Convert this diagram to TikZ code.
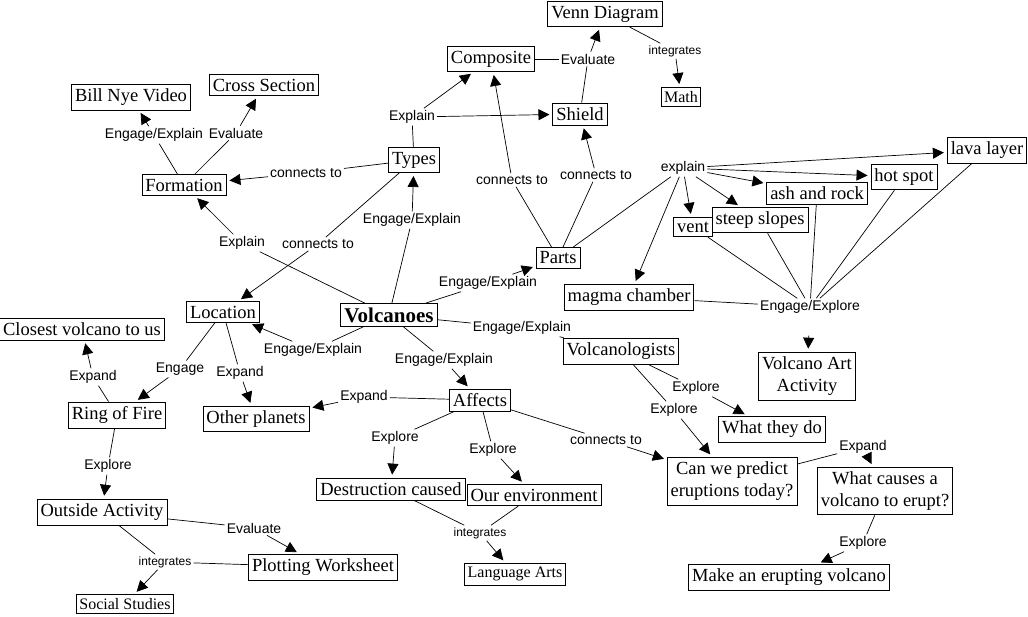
\documentclass[tikz,border=0pt]{standalone}
\usepackage{fontspec}
\setmainfont{Liberation Serif}
\setsansfont{Liberation Sans}
\usetikzlibrary{arrows.meta}
\tikzset{
  box/.style={draw, line width=0.8pt, font=\fontsize{18.5}{22}\selectfont, inner xsep=3.5pt, inner ysep=4.5pt, align=center},
  sbox/.style={draw, line width=0.8pt, font=\fontsize{16}{19}\selectfont, inner xsep=3pt, inner ysep=4pt},
  mainbox/.style={draw, line width=0.8pt, font=\bfseries\fontsize{21}{24}\selectfont, inner xsep=4pt, inner ysep=4pt},
  lbl/.style={font=\sffamily\fontsize{14}{16}\selectfont, inner sep=2pt},
  ilbl/.style={font=\sffamily\fontsize{12}{14}\selectfont, inner sep=2pt},
  ln/.style={line width=0.7pt},
  arr/.style={ln, -{Triangle[length=11pt,width=11pt]}, shorten >=3pt}
}
\begin{document}
\begin{tikzpicture}[x=1pt,y=-1pt]
\useasboundingbox (0,0) rectangle (1028,616);
% concept boxes
\node[box] (venn) at (605,14) {Venn Diagram};
\node[sbox] (math) at (681,97) {Math};
\node[box] (comp) at (491,59) {Composite};
\node[box] (shield) at (580,114) {Shield};
\node[box] (billnye) at (131,97) {Bill Nye Video};
\node[box] (cross) at (264,85) {Cross Section};
\node[box] (form) at (184,185) {Formation};
\node[box] (types) at (414,160) {Types};
\node[box] (lava) at (987,150) {lava layer};
\node[box] (hot) at (904,177) {hot spot};
\node[box] (ash) at (817,193) {ash and rock};
\node[box] (steep) at (760,220) {steep slopes};
\node[box] (vent) at (693,227) {vent};
\node[box] (parts) at (558,258) {Parts};
\node[box] (magma) at (629,297) {magma chamber};
\node[box] (loc) at (223,312) {Location};
\node[mainbox] (volc) at (389,315) {Volcanoes};
\node[box] (closest) at (82,329) {Closest volcano to us};
\node[box] (vlog) at (621,351) {Volcanologists};
\node[box] (art) at (807,376) {Volcano Art\\Activity};
\node[box] (ring) at (117,415) {Ring of Fire};
\node[box] (other) at (256,419) {Other planets};
\node[box] (aff) at (480,400) {Affects};
\node[box] (what) at (772,429) {What they do};
\node[box] (pred) at (732,481) {Can we predict\\eruptions today?};
\node[box] (cause) at (885,491) {What causes a\\volcano to erupt?};
\node[box] (destr) at (391,489) {Destruction caused};
\node[box] (env) at (534,495) {Our environment};
\node[box] (outside) at (102,512) {Outside Activity};
\node[box] (plot) at (323,567) {Plotting Worksheet};
\node[sbox] (lang) at (515,574) {Language Arts};
\node[box] (make) at (789,577) {Make an erupting volcano};
\node[sbox] (social) at (125,604) {Social Studies};
% labels
\node[lbl] (l-bn) at (154,135) {Engage/Explain};
\node[lbl] (l-cs) at (236,133) {Evaluate};
\node[lbl] (l-tf) at (306,173) {connects to};
\node[lbl] (l-vf) at (242,243) {Explain};
\node[lbl] (l-tl) at (318,244) {connects to};
\node[lbl] (l-vt) at (412,220) {Engage/Explain};
\node[lbl] (l-tcs) at (412,117) {Explain};
\node[lbl] (l-sv) at (588,59) {Evaluate};
\node[ilbl] (l-vm) at (675,51) {integrates};
\node[lbl] (l-pc) at (512,180) {connects to};
\node[lbl] (l-ps) at (596,175) {connects to};
\node[lbl] (l-px) at (683,168) {explain};
\node[lbl] (l-vp) at (488,283) {Engage/Explain};
\node[lbl] (l-vv) at (522,328) {Engage/Explain};
\node[lbl] (l-vl) at (313,350) {Engage/Explain};
\node[lbl] (l-va) at (444,360) {Engage/Explain};
\node[lbl] (l-ee) at (810,307) {Engage/Explore};
\node[lbl] (l-lr) at (180,369) {Engage};
\node[lbl] (l-lo) at (240,373) {Expand};
\node[lbl] (l-rc) at (93,377) {Expand};
\node[lbl] (l-ro) at (108,466) {Explore};
\node[lbl] (l-ao) at (364,397) {Expand};
\node[lbl] (l-ad) at (395,438) {Explore};
\node[lbl] (l-ae) at (493,450) {Explore};
\node[lbl] (l-ac) at (606,440) {connects to};
\node[lbl] (l-vw) at (696,388) {Explore};
\node[lbl] (l-vc) at (674,410) {Explore};
\node[lbl] (l-pe) at (863,447) {Expand};
\node[lbl] (l-cm) at (863,543) {Explore};
\node[lbl] (l-op) at (254,528) {Evaluate};
\node[ilbl] (l-os) at (165,562) {integrates};
\node[ilbl] (l-dl) at (480,533) {integrates};
% connectors
\draw[ln] (form) -- (l-bn); \draw[arr] (l-bn) -- (billnye);
\draw[ln] (form) -- (l-cs); \draw[arr] (l-cs) -- (cross);
\draw[ln] (types) -- (l-tf); \draw[arr] (l-tf) -- (form);
\draw[ln] (volc) -- (l-vf); \draw[arr] (l-vf) -- (form);
\draw[ln] (types) -- (l-tl); \draw[arr] (l-tl) -- (loc);
\draw[ln] (volc) -- (l-vt); \draw[arr] (l-vt) -- (types);
\draw[ln] (types) -- (l-tcs); \draw[arr] (l-tcs) -- (comp); \draw[arr] (l-tcs) -- (shield);
\draw[ln] (shield) -- (l-sv); \draw[ln] (comp) -- (l-sv); \draw[arr] (l-sv) -- (venn);
\draw[ln] (venn) -- (l-vm); \draw[arr] (l-vm) -- (math);
\draw[ln] (parts) -- (l-pc); \draw[arr] (l-pc) -- (comp);
\draw[ln] (parts) -- (l-ps); \draw[arr] (l-ps) -- (shield);
\draw[ln] (parts) -- (l-px);
\draw[arr] (l-px) -- (lava); \draw[arr] (l-px) -- (hot); \draw[arr] (l-px) -- (ash);
\draw[arr] (l-px) -- (steep); \draw[arr] (l-px) -- (vent); \draw[arr] (l-px) -- (magma);
\draw[ln] (volc) -- (l-vp); \draw[arr] (l-vp) -- (parts);
\draw[ln] (volc) -- (l-vv); \draw[ln] (l-vv) -- (vlog);
\draw[ln] (volc) -- (l-vl); \draw[arr] (l-vl) -- (loc);
\draw[ln] (volc) -- (l-va); \draw[arr] (l-va) -- (aff);
\draw[ln] (vent) -- (l-ee); \draw[ln] (steep) -- (l-ee); \draw[ln] (ash) -- (l-ee);
\draw[ln] (hot) -- (l-ee); \draw[ln] (lava) -- (l-ee); \draw[ln] (magma) -- (l-ee);
\draw[arr, shorten <=20pt] (l-ee) -- (art);
\draw[ln] (loc) -- (l-lr); \draw[arr] (l-lr) -- (ring);
\draw[ln] (loc) -- (l-lo); \draw[arr] (l-lo) -- (other);
\draw[ln] (ring) -- (l-rc); \draw[arr] (l-rc) -- (closest);
\draw[ln] (ring) -- (l-ro); \draw[arr] (l-ro) -- (outside);
\draw[ln] (aff) -- (l-ao); \draw[arr] (l-ao) -- (other);
\draw[ln] (aff) -- (l-ad); \draw[arr] (l-ad) -- (destr);
\draw[ln] (aff) -- (l-ae); \draw[arr] (l-ae) -- (env);
\draw[ln] (aff) -- (l-ac); \draw[arr] (l-ac) -- (pred);
\draw[ln] (vlog) -- (l-vw); \draw[arr] (l-vw) -- (what);
\draw[ln] (vlog) -- (l-vc); \draw[arr] (l-vc) -- (pred);
\draw[ln] (pred) -- (l-pe); \draw[arr] (l-pe) -- (cause);
\draw[ln] (cause) -- (l-cm); \draw[arr] (l-cm) -- (make);
\draw[ln] (outside) -- (l-op); \draw[arr] (l-op) -- (plot);
\draw[ln] (outside) -- (l-os); \draw[ln] (plot) -- (l-os); \draw[arr] (l-os) -- (social);
\draw[ln] (destr) -- (l-dl); \draw[ln] (env) -- (l-dl); \draw[arr] (l-dl) -- (lang);
\end{tikzpicture}
\end{document}
